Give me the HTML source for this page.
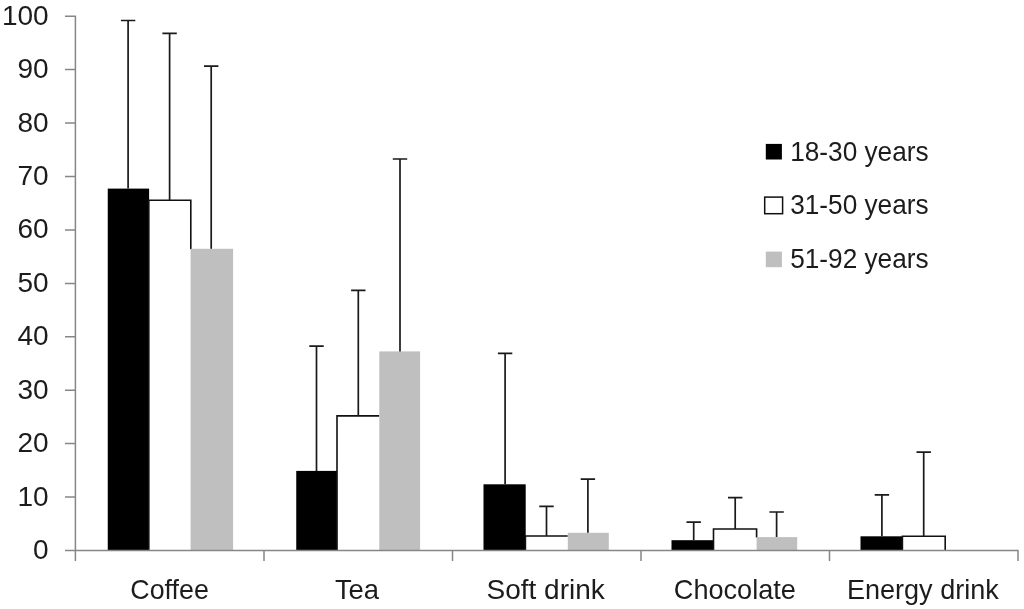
<!DOCTYPE html>
<html><head><meta charset="utf-8"><title>Chart</title>
<style>
html,body{margin:0;padding:0;background:#fff;}
body{width:1024px;height:609px;overflow:hidden;}
svg{display:block;}
text{font-family:"Liberation Sans",sans-serif;font-size:27.5px;fill:#1c1c1c;}
</style></head><body>
<svg width="1024" height="609" viewBox="0 0 1024 609">
<rect x="0" y="0" width="1024" height="609" fill="#fff"/>
<g>

<rect x="107.75" y="188.6" width="41.35" height="361.9" fill="#000"/>
<rect x="149.10" y="200.2" width="41.70" height="350.3" fill="#fff"/>
<path d="M148.80 550.5V200.2H190.80V249.3" fill="none" stroke="#111" stroke-width="1.6"/>
<rect x="190.60" y="248.8" width="42.50" height="301.7" fill="#bfbfbf"/>
<path d="M128.1 188.6V20.5M120.9 20.5H135.3" stroke="#1a1a1a" stroke-width="1.7" fill="none"/>
<path d="M169.6 200.2V33.3M162.4 33.3H176.8" stroke="#1a1a1a" stroke-width="1.7" fill="none"/>
<path d="M211.2 248.8V66.2M204.0 66.2H218.4" stroke="#1a1a1a" stroke-width="1.7" fill="none"/>
<rect x="296.25" y="470.9" width="41.05" height="79.6" fill="#000"/>
<rect x="337.30" y="415.9" width="42.00" height="134.6" fill="#fff"/>
<path d="M337.00 550.5V415.9H379.30V415.9" fill="none" stroke="#111" stroke-width="1.6"/>
<rect x="379.30" y="351.4" width="40.80" height="199.1" fill="#bfbfbf"/>
<path d="M316.5 470.9V346.1M309.3 346.1H323.7" stroke="#1a1a1a" stroke-width="1.7" fill="none"/>
<path d="M358.3 415.9V290.3M351.1 290.3H365.5" stroke="#1a1a1a" stroke-width="1.7" fill="none"/>
<path d="M400.0 351.4V159.0M392.8 159.0H407.2" stroke="#1a1a1a" stroke-width="1.7" fill="none"/>
<rect x="483.50" y="484.3" width="42.20" height="66.2" fill="#000"/>
<rect x="525.70" y="536.0" width="42.10" height="14.5" fill="#fff"/>
<path d="M525.40 550.5V536.0H567.80V536.0" fill="none" stroke="#111" stroke-width="1.6"/>
<rect x="567.80" y="532.8" width="41.00" height="17.7" fill="#bfbfbf"/>
<path d="M505.1 484.3V353.3M497.9 353.3H512.3" stroke="#1a1a1a" stroke-width="1.7" fill="none"/>
<path d="M546.5 536.0V506.3M539.3 506.3H553.7" stroke="#1a1a1a" stroke-width="1.7" fill="none"/>
<path d="M587.9 532.8V479.2M580.7 479.2H595.1" stroke="#1a1a1a" stroke-width="1.7" fill="none"/>
<rect x="671.50" y="540.2" width="42.30" height="10.3" fill="#000"/>
<rect x="713.80" y="529.0" width="42.80" height="21.5" fill="#fff"/>
<path d="M713.50 550.5V529.0H756.60V537.6" fill="none" stroke="#111" stroke-width="1.6"/>
<rect x="756.60" y="537.1" width="40.60" height="13.4" fill="#bfbfbf"/>
<path d="M693.7 540.2V522.1M686.5 522.1H700.9" stroke="#1a1a1a" stroke-width="1.7" fill="none"/>
<path d="M735.2 529.0V497.6M728.0 497.6H742.4" stroke="#1a1a1a" stroke-width="1.7" fill="none"/>
<path d="M776.6 537.1V512.0M769.4 512.0H783.8" stroke="#1a1a1a" stroke-width="1.7" fill="none"/>
<rect x="860.50" y="536.3" width="42.20" height="14.2" fill="#000"/>
<rect x="902.70" y="536.3" width="42.50" height="14.2" fill="#fff"/>
<path d="M902.40 550.5V536.3H945.20V550.5" fill="none" stroke="#111" stroke-width="1.6"/>
<path d="M881.9 536.3V494.8M874.7 494.8H889.1" stroke="#1a1a1a" stroke-width="1.7" fill="none"/>
<path d="M923.7 536.3V452.1M916.5 452.1H930.9" stroke="#1a1a1a" stroke-width="1.7" fill="none"/>
<path d="M75.4 15.45V561M65 550.5H1018.7M65 497.1H75.4M65 443.6H75.4M65 390.2H75.4M65 336.8H75.4M65 283.4H75.4M65 229.9H75.4M65 176.5H75.4M65 123.1H75.4M65 69.6H75.4M65 16.2H75.4M264.0 550.5V561M452.5 550.5V561M641.0 550.5V561M829.5 550.5V561M1018.0 550.5V561" stroke="#868686" stroke-width="1.5" fill="none"/>
<text x="48.7" y="559.0" text-anchor="end" style="font-size:28px">0</text>
<text x="48.7" y="505.6" text-anchor="end" style="font-size:28px">10</text>
<text x="48.7" y="452.1" text-anchor="end" style="font-size:28px">20</text>
<text x="48.7" y="398.7" text-anchor="end" style="font-size:28px">30</text>
<text x="48.7" y="345.3" text-anchor="end" style="font-size:28px">40</text>
<text x="48.7" y="291.9" text-anchor="end" style="font-size:28px">50</text>
<text x="48.7" y="238.4" text-anchor="end" style="font-size:28px">60</text>
<text x="48.7" y="185.0" text-anchor="end" style="font-size:28px">70</text>
<text x="48.7" y="131.6" text-anchor="end" style="font-size:28px">80</text>
<text x="48.7" y="78.1" text-anchor="end" style="font-size:28px">90</text>
<text x="48.7" y="24.7" text-anchor="end" style="font-size:28px">100</text>
<text x="130.3" y="598.8" textLength="78.5" lengthAdjust="spacingAndGlyphs">Coffee</text>
<text x="334.9" y="598.8" textLength="44.2" lengthAdjust="spacingAndGlyphs">Tea</text>
<text x="486.5" y="598.8" textLength="118.3" lengthAdjust="spacingAndGlyphs">Soft drink</text>
<text x="673.8" y="598.8" textLength="122.1" lengthAdjust="spacingAndGlyphs">Chocolate</text>
<text x="846.9" y="598.8" textLength="151.9" lengthAdjust="spacingAndGlyphs">Energy drink</text>
<rect x="765.8" y="143.9" width="16.1" height="15.6" fill="#000"/>
<text x="790.2" y="160.6" textLength="138.4" lengthAdjust="spacingAndGlyphs">18-30 years</text>
<rect x="764.7" y="197.1" width="17.9" height="16.6" fill="#fff" stroke="#111" stroke-width="1.5"/>
<text x="790.2" y="214.3" textLength="138.4" lengthAdjust="spacingAndGlyphs">31-50 years</text>
<rect x="765.8" y="251.6" width="16.1" height="15.6" fill="#bfbfbf"/>
<text x="790.2" y="268.3" textLength="138.4" lengthAdjust="spacingAndGlyphs">51-92 years</text>
</g></svg></body></html>
